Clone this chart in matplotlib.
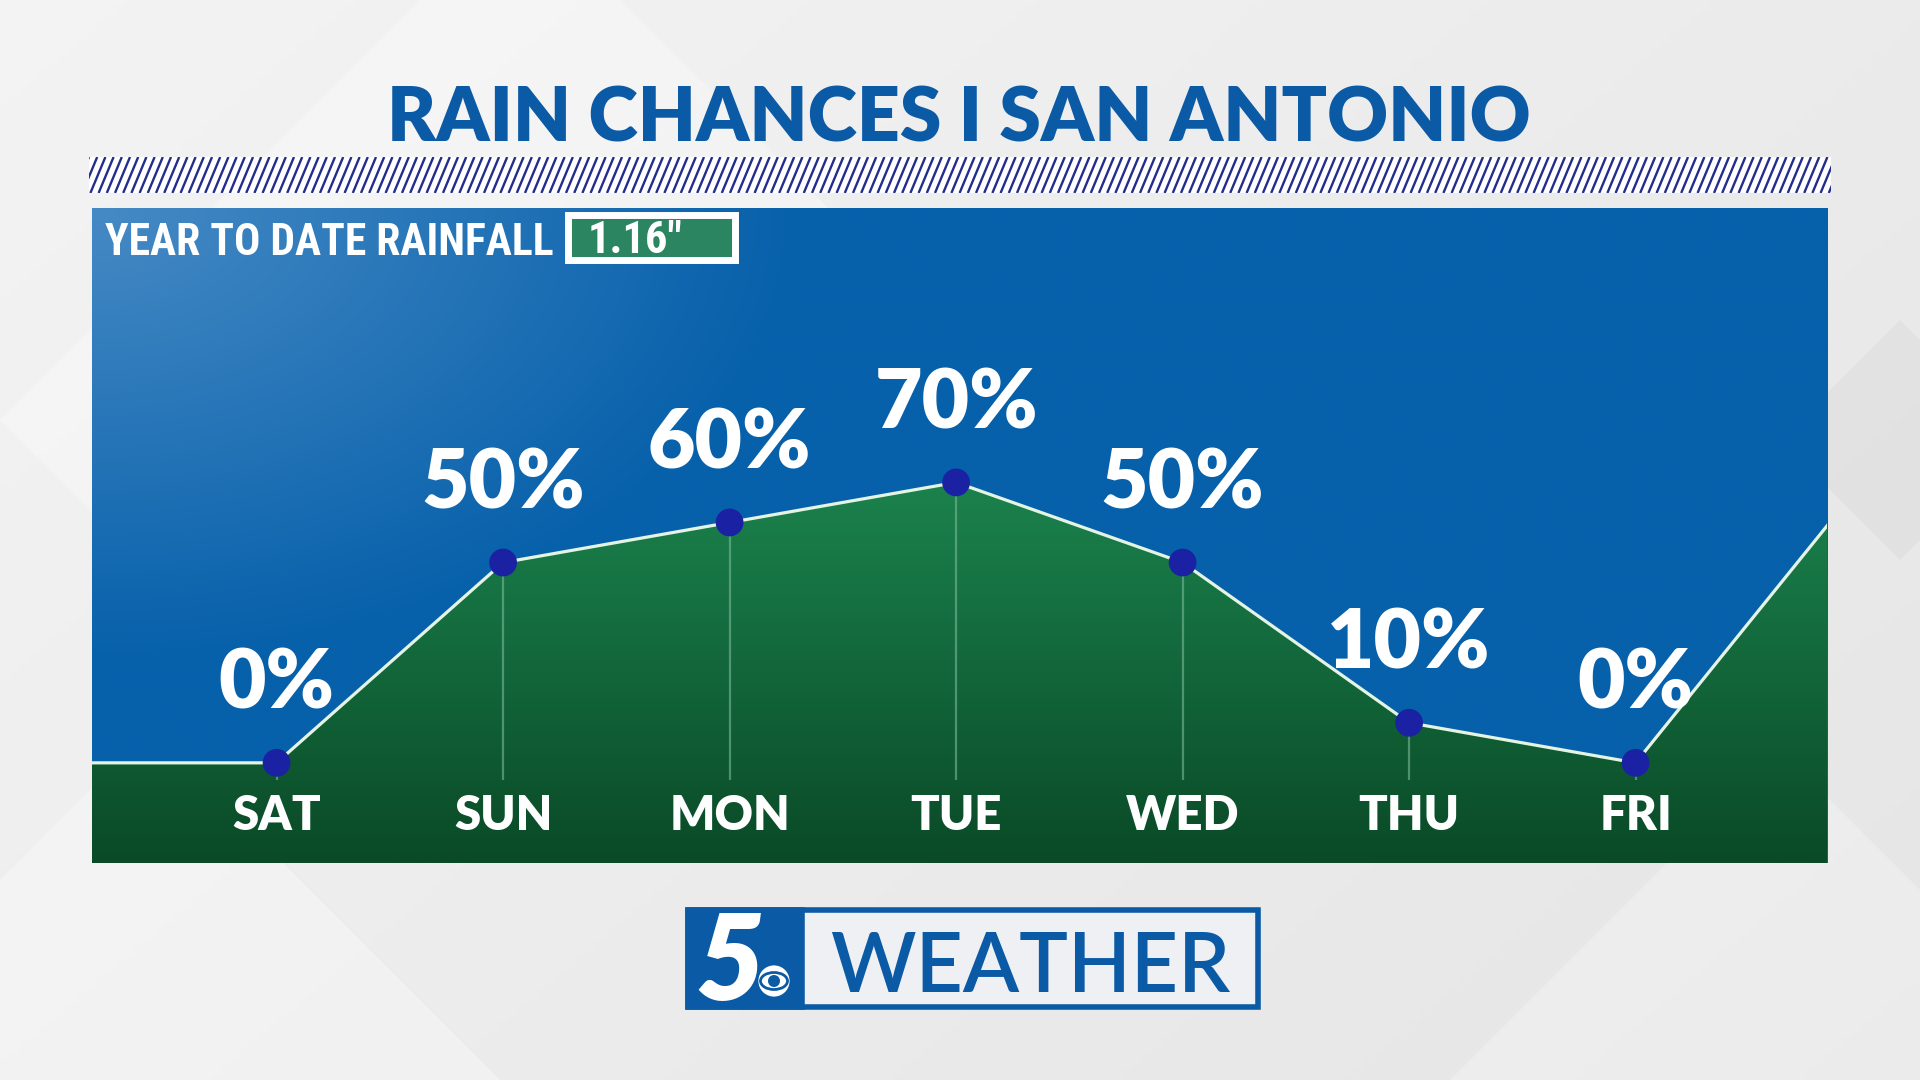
import numpy as np
import matplotlib.pyplot as plt
from matplotlib.patches import Rectangle, Polygon, Circle, Ellipse
from matplotlib.collections import LineCollection

# ---- data ----
days = ['SAT', 'SUN', 'MON', 'TUE', 'WED', 'THU', 'FRI']
rain_chance = [0, 50, 60, 70, 50, 10, 0]
# the day before SAT and the day after FRI, only partly visible at the panel edges
chance_before = 0
chance_after = 70
ytd_rainfall = '1.16"'
title = 'RAIN CHANCES I SAN ANTONIO'

FONT = ['Lato', 'DejaVu Sans']
NARROW = ['Roboto Condensed', 'Open Sans Condensed', 'Liberation Sans Narrow',
          'DejaVu Sans']
BLUE = '#0b5aa6'
NAVY = '#232d8c'

W, H = 1920, 1080
fig = plt.figure(figsize=(19.2, 10.8), dpi=100)

# background layer in pixel coords
bg = fig.add_axes([0, 0, 1, 1])
bg.set_xlim(0, W)
bg.set_ylim(H, 0)
bg.axis('off')

yy, xx = np.mgrid[0:1:200j, 0:1:200j]
shade = 0.955 - 0.055 * (0.6 * xx + 0.4 * yy)
bg.imshow(np.dstack([shade] * 3), extent=(0, W, H, 0), aspect='auto', zorder=0)

# faint diamond shapes
for pts, c, a in [
    ([(0, 420), (520, -100), (900, 280), (380, 800)], 'white', 0.3),
    ([(1780, 440), (1900, 320), (2020, 440), (1900, 560)], '#d6d6d6', 0.35),
    ([(-200, 1080), (150, 730), (500, 1080)], 'white', 0.3),
    ([(1450, 1080), (1780, 750), (2110, 1080)], 'white', 0.25),
]:
    bg.add_patch(Polygon(pts, closed=True, fc=c, ec='none', alpha=a, zorder=1))

bg.set_xlim(0, W)
bg.set_ylim(H, 0)

# title
bg.text(959, 141, title, ha='center', va='baseline', fontsize=54,
        fontweight='heavy', color=BLUE, family=FONT, zorder=3)

# hatched band
hx0, hx1, hy0, hy1 = 89, 1831, 157, 193
band = Rectangle((hx0, hy0), hx1 - hx0, hy1 - hy0, fc='white', ec='none', zorder=2)
bg.add_patch(band)
lean = 15
segs = [[(x, hy1), (x + lean, hy0)] for x in np.arange(hx0 - lean, hx1 + 1, 8.2)]
lc = LineCollection(segs, colors=NAVY, linewidths=1.7, zorder=3)
bg.add_collection(lc)
lc.set_clip_path(band)

# logo
bg.add_patch(Rectangle((688, 910), 570, 97, fc='#eef0f3', ec=BLUE, lw=4, zorder=3))
bg.add_patch(Rectangle((688, 910), 114, 97, fc=BLUE, ec=BLUE, lw=4, zorder=4))
bg.text(730, 1000, '5', ha='center', va='baseline', fontsize=86, fontweight='heavy',
        fontstyle='italic', color='white', family=FONT, zorder=5)
bg.add_patch(Circle((774, 981), 17, fc='white', ec=BLUE, lw=2, zorder=6))
bg.add_patch(Ellipse((774, 981), 27, 17, fc='none', ec=BLUE, lw=2, zorder=7))
bg.add_patch(Circle((774, 981), 6, fc=BLUE, ec='none', zorder=7))
bg.text(1030, 992, 'WEATHER', ha='center', va='baseline', fontsize=59,
        fontweight='semibold', color=BLUE, family=FONT, zorder=5)

# ---- chart panel ----
ax = fig.add_axes([92 / W, 1 - 863 / H, (1827 - 92) / W, (863 - 208) / H])
x_all = np.arange(-1, len(days) + 1)
y_all = [chance_before] + rain_chance + [chance_after]
xlim = (-0.815, 6.845)
ylim = (-25, 138.5)

# blue gradient backdrop, lighter at the top-left corner
gy, gx = np.mgrid[0:1:300j, 0:1:500j]
t = np.clip(np.sqrt((gx * 1.7) ** 2 + (gy * 1.0) ** 2) / 0.7, 0, 1)
light = np.array([0x46, 0x8a, 0xc5]) / 255
base = np.array([0x06, 0x60, 0xaa]) / 255
blue_img = light[None, None, :] * (1 - t[..., None]) + base[None, None, :] * t[..., None]
ax.imshow(blue_img, extent=(0, 1, 0, 1), transform=ax.transAxes, aspect='auto', zorder=0)

# green area with a vertical gradient
fill = ax.fill_between(x_all, y_all, ylim[0] - 5, color='none', lw=0)
vals = np.linspace(ylim[1], ylim[0], 300)
s = np.clip((75 - vals) / 100, 0, 1)
top_g = np.array([0x1c, 0x85, 0x4f]) / 255
bot_g = np.array([0x0a, 0x4a, 0x27]) / 255
green = top_g[None, :] * (1 - s[:, None]) + bot_g[None, :] * s[:, None]
green_img = np.repeat(green[:, None, :], 10, axis=1)
gim = ax.imshow(green_img, extent=(xlim[0], xlim[1], ylim[0], ylim[1]),
                aspect='auto', origin='upper', zorder=1)
gim.set_clip_path(fill.get_paths()[0], transform=ax.transData)

days_x = np.arange(len(days))
ax.vlines(days_x, -4.3, rain_chance, color='#7ab898', lw=1.6, alpha=0.6, zorder=2)
ax.plot(x_all, y_all, color='#e4f4e4', lw=2.3, zorder=3)
ax.scatter(days_x, rain_chance, s=400, color='#1a22a3', edgecolors='none', zorder=4)

for i, v in enumerate(rain_chance):
    ax.annotate(f'{v}%', (i, v), xytext=(0, 39), textcoords='offset points',
                ha='center', va='baseline', fontsize=59, fontweight='heavy',
                color='white', family=FONT, zorder=5)
    ax.text(i, -16.8, days[i], ha='center', va='baseline', fontsize=34,
            fontweight='heavy', color='white', family=FONT, zorder=5)

ax.set_xlim(*xlim)
ax.set_ylim(*ylim)
ax.axis('off')

# ---- overlay: year-to-date rainfall ----
top = fig.add_axes([0, 0, 1, 1], zorder=10)
top.set_xlim(0, W)
top.set_ylim(H, 0)
top.axis('off')
top.patch.set_alpha(0)
ytd_label = top.text(105, 255, 'YEAR TO DATE RAINFALL', ha='left', va='baseline',
                     fontsize=40, fontweight='bold', fontstretch='condensed',
                     color='white', family=NARROW)
top.add_patch(Rectangle((568, 215), 167, 45, fc='#2a8560', ec='white', lw=5))
ytd_value = top.text(588, 253, ytd_rainfall, ha='left', va='baseline', fontsize=35,
                     fontweight='bold', fontstretch='condensed', color='white',
                     family=NARROW)

# shrink the condensed labels to the width they take in the graphic
renderer = fig.canvas.get_renderer()
for txt, target in [(ytd_label, 448), (ytd_value, 95)]:
    w = txt.get_window_extent(renderer).width
    if w > target:
        txt.set_fontsize(txt.get_fontsize() * target / w)

fig.savefig('out.png', dpi=100)
